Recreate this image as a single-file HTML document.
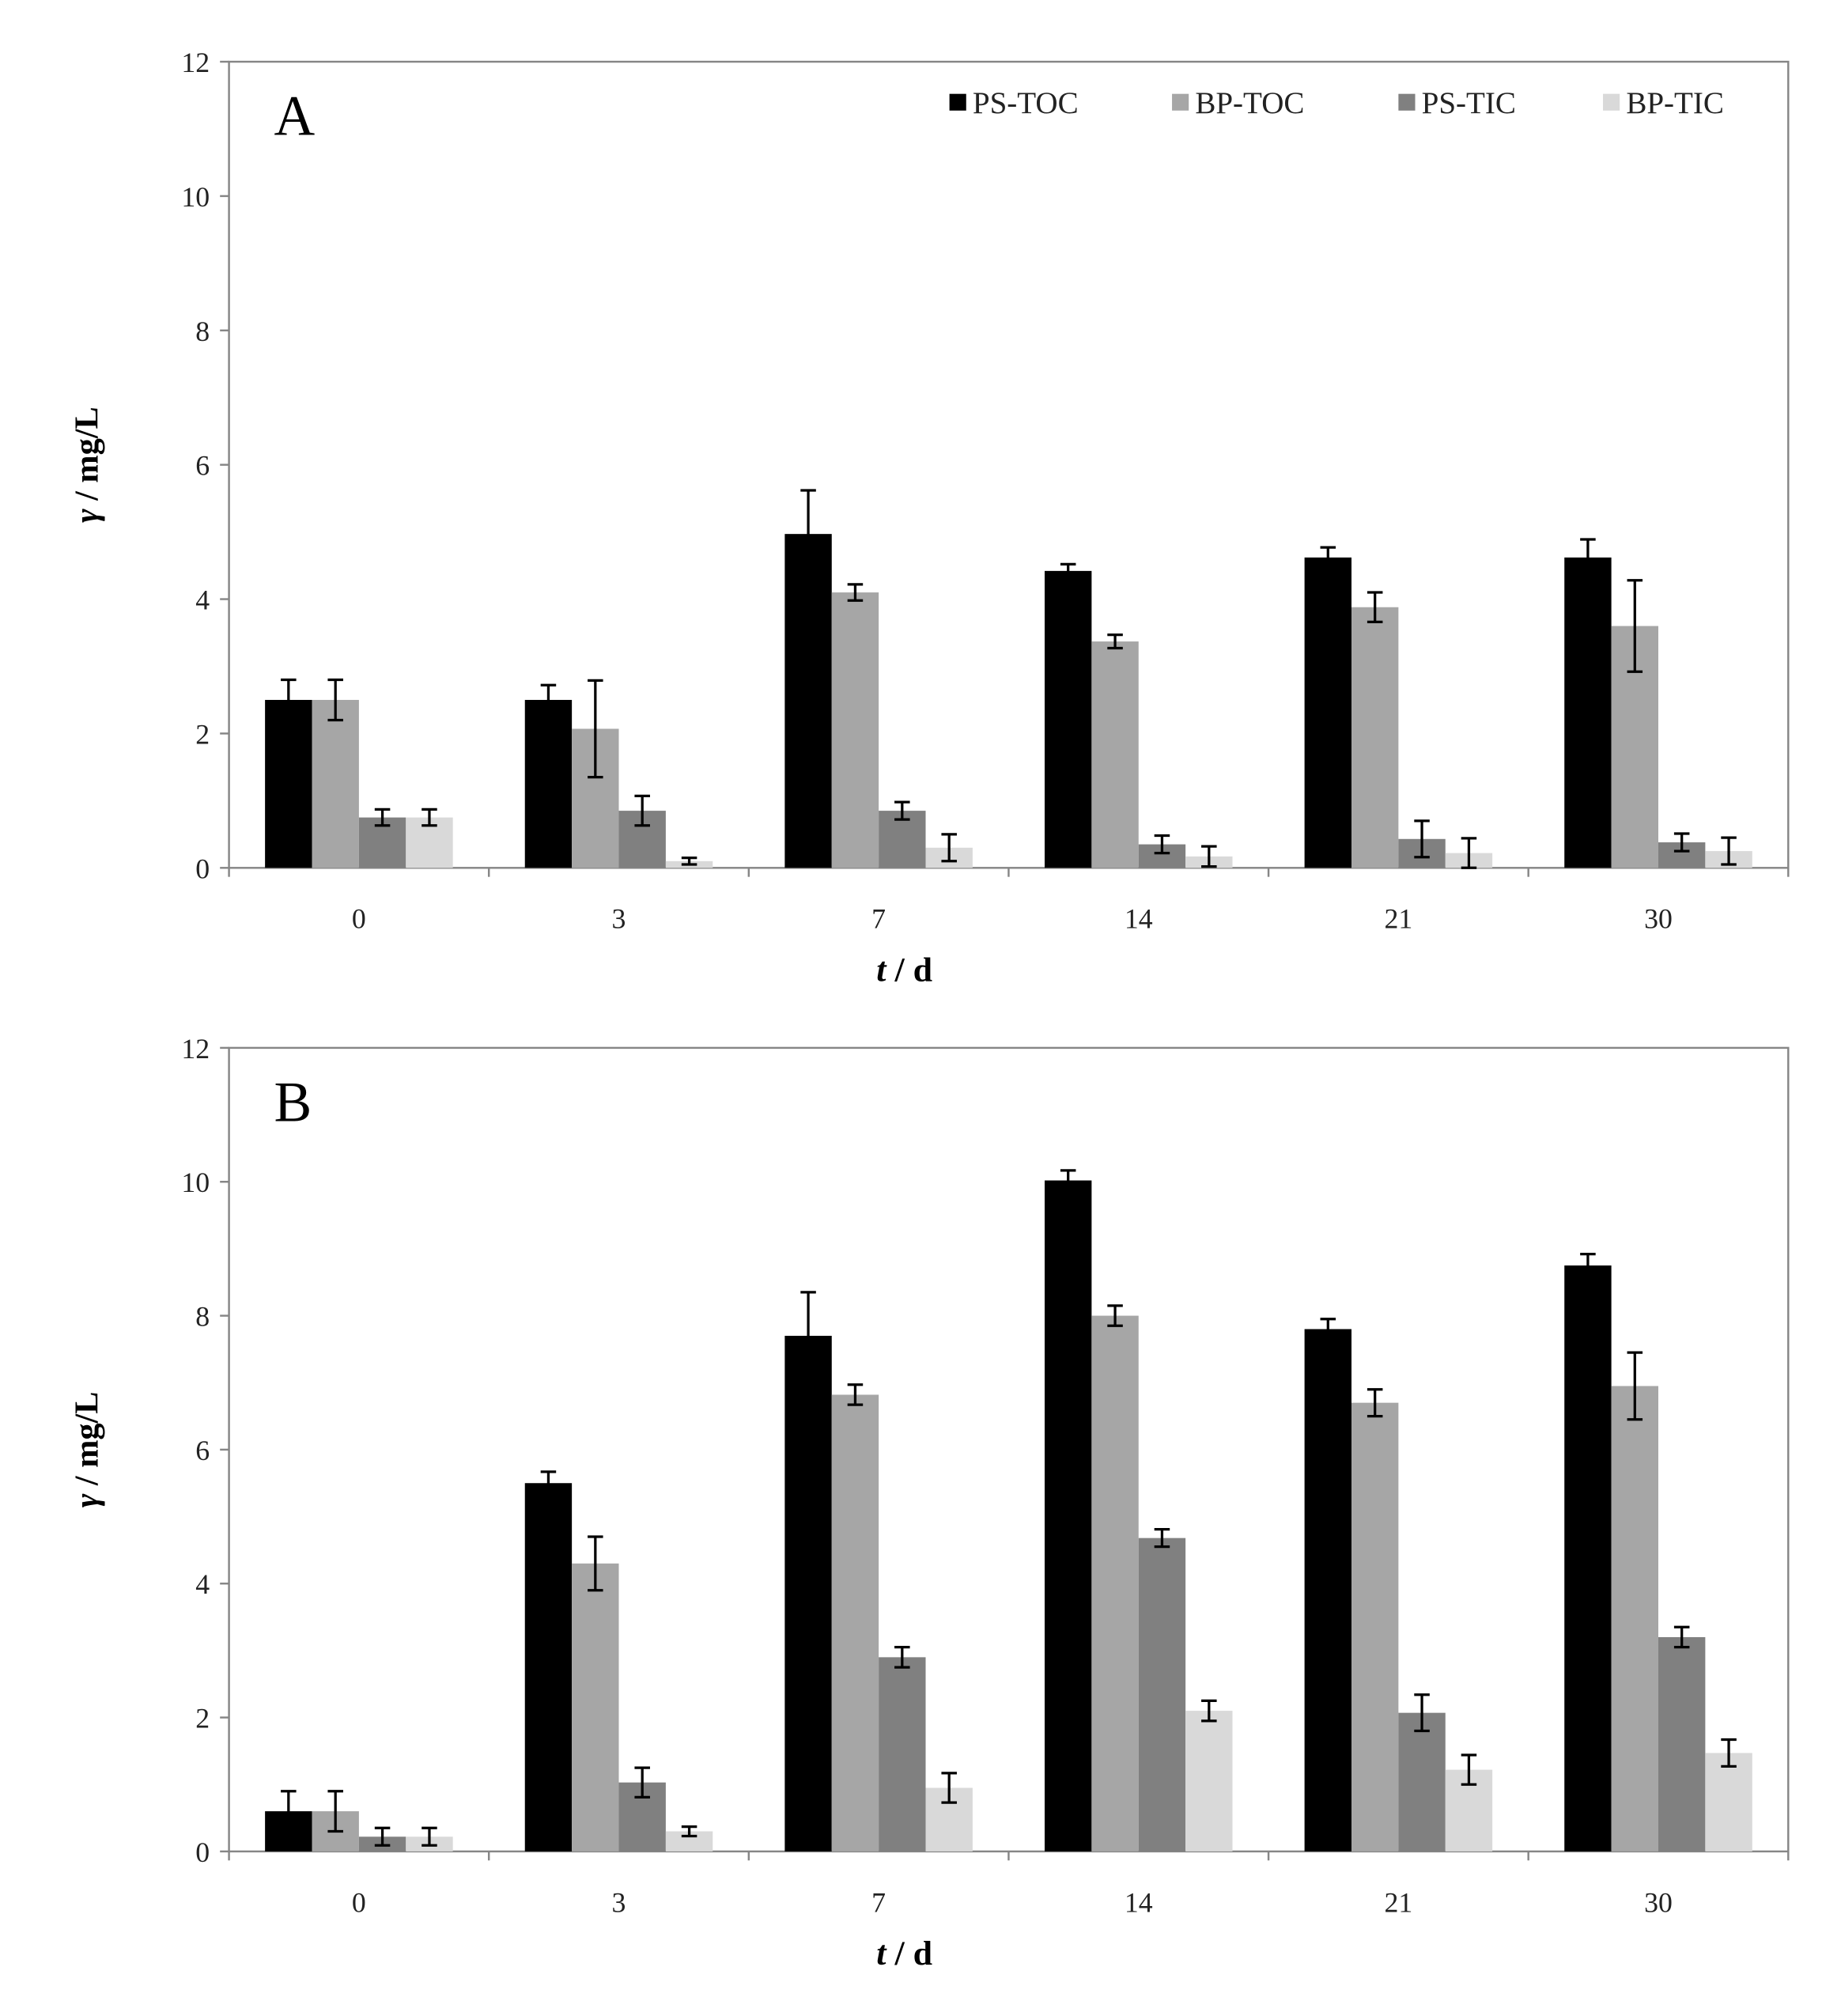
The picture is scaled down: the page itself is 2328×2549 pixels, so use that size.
<!DOCTYPE html>
<html><head><meta charset="utf-8"><style>
html,body{margin:0;padding:0;background:#fff;}
svg{display:block;}
text{font-family:"Liberation Serif",serif;}
</style></head><body>
<svg id="s" width="2328" height="2549" viewBox="0 0 1431 1568" preserveAspectRatio="none" xmlns="http://www.w3.org/2000/svg"></svg>
<script>
var s=document.getElementById('s');var h='';
var cols=['#000','#a6a6a6','#808080','#d9d9d9'];
var data=[
[[[2.5,.3],[2.5,.3],[.75,.12],[.75,.12]],[[2.5,.22],[2.07,.72],[.85,.22],[.1,.05]],[[4.97,.65],[4.1,.12],[.85,.13],[.3,.2]],[[4.42,.1],[3.37,.1],[.35,.13],[.17,.15]],[[4.62,.15],[3.88,.22],[.43,.27],[.22,.22]],[[4.62,.27],[3.6,.68],[.38,.13],[.25,.2]]],
[[[.6,.3],[.6,.3],[.22,.13],[.22,.13]],[[5.5,.17],[4.3,.4],[1.03,.22],[.3,.07]],[[7.7,.65],[6.82,.15],[2.9,.15],[.95,.22]],[[10.02,.15],[8,.15],[4.68,.13],[2.1,.15]],[[7.8,.15],[6.7,.2],[2.07,.27],[1.22,.22]],[[8.75,.17],[6.95,.5],[3.2,.15],[1.47,.2]]]];
var cats=['0','3','7','14','21','30'];
var panels=[{top:48,zero:675,L:'A'},{top:815,zero:1440,L:'B'}];
var x0=178,x1=1390,gw=(x1-x0)/6,bw=36.5;
panels.forEach(function(p,pi){
 var u=(p.zero-p.top)/12;
 for(var k=0;k<=6;k++){var y=p.zero-k*2*u;
  h+='<line x1="171" y1="'+y+'" x2="'+x0+'" y2="'+y+'" stroke="#868686" stroke-width="1.5"/>';
  h+='<text x="163" y="'+(y+8)+'" font-size="22" text-anchor="end" fill="#222">'+(k*2)+'</text>';}
 h+='<rect x="'+x0+'" y="'+p.top+'" width="'+(x1-x0)+'" height="'+(p.zero-p.top)+'" fill="none" stroke="#868686" stroke-width="1.5"/>';
 for(var k=0;k<=6;k++){var x=x0+k*gw;h+='<line x1="'+x+'" y1="'+p.zero+'" x2="'+x+'" y2="'+(p.zero+7)+'" stroke="#868686" stroke-width="1.5"/>';}
 data[pi].forEach(function(g,gi){var c=x0+gw*(gi+.5);
  h+='<text x="'+c+'" y="'+(p.zero+47)+'" font-size="22" text-anchor="middle" fill="#222">'+cats[gi]+'</text>';
  g.forEach(function(v,bi){var bx=c-73+bi*bw,y=p.zero-v[0]*u;
   h+='<rect x="'+bx+'" y="'+y+'" width="'+bw+'" height="'+(v[0]*u)+'" fill="'+cols[bi]+'"/>';
   var m=bx+bw/2,t=p.zero-(v[0]+v[1])*u,b=p.zero-Math.max(0,v[0]-v[1])*u;
   h+='<path d="M'+m+' '+t+'V'+b+'M'+(m-6)+' '+t+'H'+(m+6)+'M'+(m-6)+' '+b+'H'+(m+6)+'" stroke="#000" stroke-width="2" fill="none"/>';});});
 h+='<text x="213" y="'+(p.top+57)+'" font-size="44" fill="#000">'+p.L+'</text>';
 var cy=(p.top+p.zero)/2;
 h+='<text transform="translate(76,'+cy+') rotate(-90)" font-size="26" font-weight="bold" text-anchor="middle"><tspan font-style="italic">γ</tspan> / mg/L</text>';
 h+='<text x="703" y="'+(p.zero+88)+'" font-size="27" font-weight="bold" text-anchor="middle"><tspan font-style="italic">t</tspan> / d</text>';
});
var lg=[['PS-TOC',738],['BP-TOC',911],['PS-TIC',1087],['BP-TIC',1246]];
lg.forEach(function(l,i){h+='<rect x="'+l[1]+'" y="73" width="13" height="13" fill="'+cols[i]+'"/><text x="'+(l[1]+18)+'" y="88" font-size="24" fill="#222">'+l[0]+'</text>';});
s.innerHTML=h;
</script>
</body></html>
